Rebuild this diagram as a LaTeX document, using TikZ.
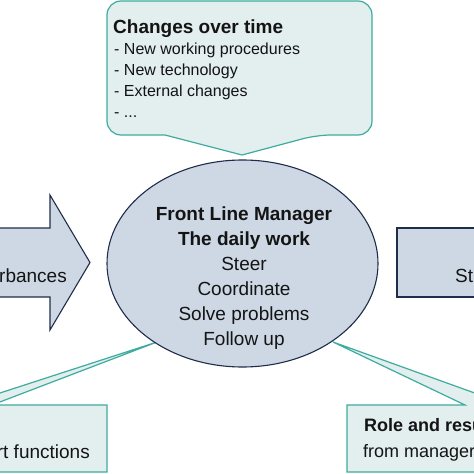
\documentclass[tikz,border=0pt]{standalone}
\usepackage{fontspec}
\setmainfont{Liberation Sans}
\usetikzlibrary{shapes.geometric}
\definecolor{tealline}{RGB}{62,172,158}
\definecolor{boxfill}{RGB}{227,238,239}
\definecolor{bluefill}{RGB}{205,216,228}
\definecolor{darkline}{RGB}{31,44,74}
\definecolor{textcol}{RGB}{20,20,20}

\begin{document}
\begin{tikzpicture}[x=1pt, y=-1pt,
  every node/.style={text=textcol, inner sep=0pt},
  big/.style={font=\fontsize{19}{23}\selectfont},
  bigbold/.style={font=\fontsize{19}{23}\selectfont\bfseries},
  small/.style={font=\fontsize{16}{19}\selectfont},
  mid/.style={font=\fontsize{18}{21}\selectfont},
  callout/.style={draw=tealline, fill=boxfill, line width=1.2pt},
  dark/.style={draw=darkline, fill=bluefill, line width=1.1pt}]
\useasboundingbox (0,0) rectangle (474,474);
\clip (0,0) rectangle (474,474);
% top callout
\draw[callout] (240,1) [rounded corners=14] -- (372,1) -- (372,135) -- (317,135)
  [sharp corners] -- (242,155) -- (165,135) [rounded corners=14] -- (107,135) -- (107,1) -- cycle;
\node[bigbold, anchor=base west] (ct) at (113,33) {Changes over time};
\node[small, anchor=base west] (ct1) at (114,54) {- New working procedures};
\node[small, anchor=base west] (ct2) at (114,75) {- New technology};
\node[small, anchor=base west] (ct3) at (114,96) {- External changes};
\node[small, anchor=base west] (ct4) at (114,117) {- ...};
% bottom left callout
\draw[callout] (-60,405) -- (-37,405) -- (157,342) -- (-8,405) -- (107,405)
  -- (107,472) -- (-60,472) -- cycle;
\node[big, anchor=base east] (sup) at (90,458) {rt functions};
% bottom right callout
\draw[callout] (347,472) -- (347,405) -- (465,405) -- (333,342) -- (508,405)
  -- (530,405) -- (530,472) -- cycle;
\node[mid, font=\fontsize{18}{21}\selectfont\bfseries, anchor=base west] (role) at (364,431) {Role and resu};
\node[mid, anchor=base west] (from) at (363,457) {from manager};
% left arrow
\draw[dark] (-30,228) -- (50,228) -- (50,195) -- (90,262.5) -- (50,330) -- (50,297)
  -- (-30,297) -- cycle;
\node[big, anchor=base east] (dist) at (67,282) {rbances};
% right box
\draw[dark] (397,228) rectangle (530,297);
\node[big, anchor=base west] (st) at (455,282) {St};
% ellipse
\node[dark, ellipse, minimum width=271pt, minimum height=207pt] (flm) at (242.5,263.5) {};
\node[bigbold, anchor=base] (fl1) at (244,220) {Front Line Manager};
\node[bigbold, anchor=base] (fl2) at (244,245) {The daily work};
\node[big, anchor=base] (fl3) at (244,270) {Steer};
\node[big, anchor=base] (fl4) at (244,295) {Coordinate};
\node[big, anchor=base] (fl5) at (244,320) {Solve problems};
\node[big, anchor=base] (fl6) at (244,345) {Follow up};
\end{tikzpicture}
\end{document}
